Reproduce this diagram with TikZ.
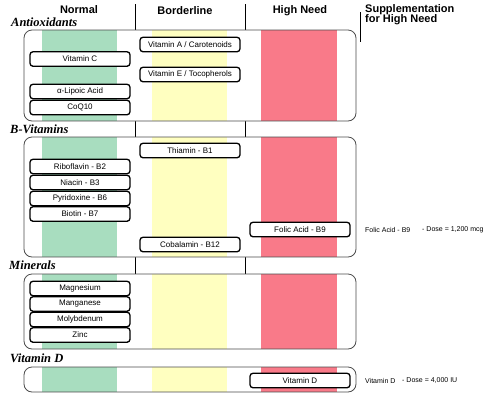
\documentclass[tikz,border=0pt]{standalone}
\usepackage{fontspec}
\setmainfont{Liberation Sans}
\newfontfamily\titlefont{Liberation Serif}
\definecolor{normalgreen}{HTML}{A8DDBF}
\definecolor{borderyellow}{HTML}{FFFFC0}
\definecolor{highred}{HTML}{F97A89}
\tikzset{
  item/.style={draw, fill=white, rounded corners=3pt, line width=1.3pt,
    minimum width=100pt, minimum height=14.5pt, inner sep=0pt,
    font=\fontsize{8}{9}\selectfont},
  colhead/.style={font=\bfseries\fontsize{11}{12}\selectfont},
  sectitle/.style={anchor=base west, inner sep=0pt,
    font=\titlefont\bfseries\itshape\fontsize{12.5}{13}\selectfont},
  dose/.style={anchor=west, inner sep=0pt, font=\fontsize{7}{8}\selectfont}
}
\begin{document}
\begin{tikzpicture}[x=1pt,y=-1pt]
\useasboundingbox (0,0) rectangle (504,400);
\draw[line width=0.8pt] (135,4) -- (135,280);
\draw[line width=0.8pt] (245,4) -- (245,280);
\draw[line width=0.8pt] (360,12) -- (360,42);
\node[colhead] (normal) at (79,10) {Normal};
\node[colhead] (borderline) at (185,10.5) {Borderline};
\node[colhead] (highneed) at (300,10.5) {High Need};
\node[colhead, anchor=west, align=left, inner sep=0pt] (supp) at (365,15)
  {Supplementation\\[-2pt]for High Need};
\foreach \top/\bot in {30/121, 137/257, 274/349, 367/392} {
  \fill[white, rounded corners=8pt] (24,\top) rectangle (356,\bot);
  \fill[normalgreen] (42,\top) rectangle (117,\bot);
  \fill[borderyellow] (152,\top) rectangle (227,\bot);
  \fill[highred] (261,\top) rectangle (337,\bot);
  \draw[line width=0.8pt, black!70, rounded corners=8pt] (24,\top) rectangle (356,\bot);
}
\node[sectitle] (antiox) at (11,26) {Antioxidants};
\node[sectitle] (bvit) at (10,133) {B-Vitamins};
\node[sectitle] (minerals) at (9,269) {Minerals};
\node[sectitle] (vitdtitle) at (10,362) {Vitamin D};
\node[item] (vitc) at (80,59) {Vitamin C};
\node[item] (lipoic) at (80,91.5) {α-Lipoic Acid};
\node[item] (coq) at (80,107.5) {CoQ10};
\node[item] (vita) at (190,44.5) {Vitamin A / Carotenoids};
\node[item] (vite) at (190,74.5) {Vitamin E / Tocopherols};
\node[item] (thiamin) at (190,150.5) {Thiamin - B1};
\node[item] (ribo) at (80,166.5) {Riboflavin - B2};
\node[item] (niacin) at (80,182.5) {Niacin - B3};
\node[item] (pyrid) at (80,198.5) {Pyridoxine - B6};
\node[item] (biotin) at (80,214) {Biotin - B7};
\node[item] (folic) at (300,229.5) {Folic Acid - B9};
\node[item] (cobal) at (190,244.5) {Cobalamin - B12};
\node[item] (magn) at (80,288.5) {Magnesium};
\node[item] (mangan) at (80,304) {Manganese};
\node[item] (molyb) at (80,319.5) {Molybdenum};
\node[item] (zinc) at (80,335) {Zinc};
\node[item] (vitd) at (300,380.5) {Vitamin D};
\node[dose] (folicname) at (365,229.5) {Folic Acid - B9};
\node[dose] (folicdose) at (422,229.5) {- Dose = 1,200 mcg};
\node[dose] (vitdname) at (365,380.5) {Vitamin D};
\node[dose] (vitddose) at (402,380.5) {- Dose = 4,000 IU};
\end{tikzpicture}
\end{document}
